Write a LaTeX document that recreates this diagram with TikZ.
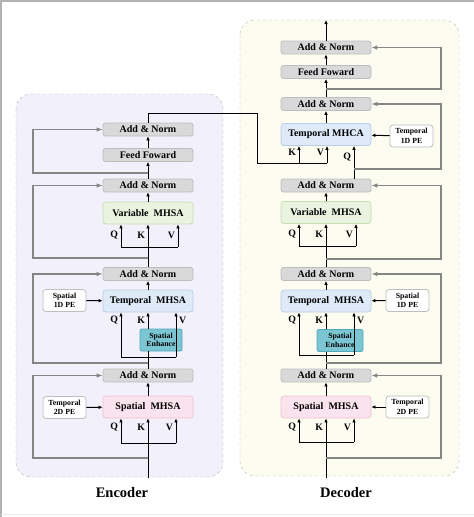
\documentclass[tikz,border=0pt]{standalone}
\usepackage{fontspec}
\setmainfont{Liberation Serif}
\usetikzlibrary{arrows.meta}
\definecolor{normgray}{HTML}{D9D9D9}
\definecolor{normline}{HTML}{BDBDBD}
\definecolor{varfill}{HTML}{E9F3E0}
\definecolor{varline}{HTML}{C6DDB4}
\definecolor{tempfill}{HTML}{DEEAF7}
\definecolor{templine}{HTML}{B9CDE6}
\definecolor{spafill}{HTML}{FAE3EC}
\definecolor{spaline}{HTML}{EEC3D3}
\definecolor{enhfill}{HTML}{7CC6D4}
\definecolor{enhline}{HTML}{4FA7B8}
\definecolor{encbg}{HTML}{F1F0FB}
\definecolor{decbg}{HTML}{FDFCF1}
\definecolor{resgray}{HTML}{858585}

\begin{document}
\begin{tikzpicture}
      [x=1pt, y=-1pt, >={Latex[length=4pt,width=3.6pt]},
       every node/.style={font=\bfseries\fontsize{10}{11}\selectfont, inner sep=0pt},
       norm/.style={draw=normline, fill=normgray, rounded corners=2.5pt, line width=0.8pt,
         minimum width=90pt, minimum height=13pt},
       attn/.style={rounded corners=3pt, line width=0.8pt, minimum width=90pt, minimum height=22pt},
       pe/.style={draw=normline, fill=white, rounded corners=3pt, line width=0.8pt, align=center,
         minimum width=43pt, minimum height=22pt, font=\bfseries\fontsize{7.8}{9.5}\selectfont},
       enh/.style={draw=enhline, fill=enhfill, rounded corners=2pt, line width=0.8pt, align=center,
         minimum height=22pt, font=\bfseries\fontsize{7.8}{8.6}\selectfont},
       lbl/.style={font=\bfseries\fontsize{9.8}{10}\selectfont, inner sep=2.5pt},
       main/.style={line width=1pt},
       res/.style={draw=resgray, line width=1.3pt, -{Latex[length=6pt,width=4.6pt]}}]
      \useasboundingbox (0,0) rectangle (474,517);
      % frame of the page
      \draw[gray!60, line width=2pt] (1,517) -- (1,1) -- (474,1);
      \draw[gray!15, line width=1pt] (1,514.5) -- (474,514.5);

      % containers
      \draw[fill=encbg, draw=gray!60, dashed, rounded corners=15pt] (16,94) rectangle (223,477);
      \draw[fill=decbg, draw=gray!60, dashed, rounded corners=15pt] (240,20) rectangle (459,476);

      % encoder
      \node[norm](e1) at (148, 129.5) {Add \& Norm};
      \node[norm](e2) at (148, 155) {Feed Foward};
      \node[norm](e3) at (148, 185.5) {Add \& Norm};
      \node[attn, draw=varline, fill=varfill](e4) at (148, 213) {Variable\ \ MHSA};
      \node[norm](e5) at (148, 274) {Add \& Norm};
      \node[attn, draw=templine, fill=tempfill](e6) at (148, 301) {Temporal\ \ MHSA};
      \node[enh, minimum width=42pt](e7) at (161, 340) {Spatial\\Enhance};
      \node[norm](e8) at (148, 375.5) {Add \& Norm};
      \node[attn, draw=spaline, fill=spafill](e9) at (148, 407) {Spatial\ \ MHSA};
      \node[pe](p1) at (64.5, 300.5) {Spatial\\1D PE};
      \node[pe](p2) at (64.5, 407.5) {Temporal\\2D PE};
      \node[font=\bfseries\fontsize{14.5}{16}\selectfont](enc) at (122, 493) {Encoder};

      % decoder
      \node[norm](d1) at (326, 47.5) {Add \& Norm};
      \node[norm](d2) at (326, 72) {Feed Foward};
      \node[norm](d3) at (326, 104) {Add \& Norm};
      \node[attn, draw=templine, fill=tempfill](d4) at (326, 134.5) {Temporal MHCA};
      \node[norm](d5) at (326, 185.5) {Add \& Norm};
      \node[attn, draw=varline, fill=varfill](d6) at (326, 212.5) {Variable\ \ MHSA};
      \node[norm](d7) at (326, 274) {Add \& Norm};
      \node[attn, draw=templine, fill=tempfill](d8) at (326, 301) {Temporal\ \ MHSA};
      \node[enh, minimum width=46pt](d9) at (340, 340.5) {Spatial\\Enhance};
      \node[norm](d10) at (326, 375.5) {Add \& Norm};
      \node[attn, draw=spaline, fill=spafill](d11) at (326, 407) {Spatial\ \ MHSA};
      \node[pe](q1) at (411.5, 136) {Temporal\\1D PE};
      \node[pe](q2) at (407.5, 300.5) {Spatial\\1D PE};
      \node[pe](q3) at (407.5, 407) {Temporal\\2D PE};
      \node[font=\bfseries\fontsize{14.5}{16}\selectfont](dec) at (346, 493) {Decoder};

      % encoder connectors
      \coordinate(ein) at (148, 478);
      \coordinate(eb1) at (121, 443);
      \coordinate(eb2) at (176, 443);
      \coordinate(eb3) at (121, 357);
      \coordinate(eb4) at (176, 357);
      \coordinate(eb5) at (121, 247);
      \coordinate(eb6) at (178, 247);
      \draw[main, ->](ein) --node[lbl, pos=0.85, left]{K} (e9.south);
      \draw[main](eb1) -- (eb2);
      \draw[main, ->](eb1) --node[lbl, pos=0.64, left]{Q} (eb1 |- e9.south);
      \draw[main, ->](eb2) --node[lbl, pos=0.64, left]{V} (eb2 |- e9.south);
      \draw[main, ->](e9) -- (e8);
      \draw[main](e8) -- (e8.north |- e7.south);
      \draw[main](eb3) -- (eb4);
      \draw[main, ->](eb3) --node[lbl, pos=0.82, left]{Q} (eb3 |- e6.south);
      \draw[main, ->](eb4) --node[lbl, pos=0.82, right]{V} (eb4 |- e6.south);
      \draw[main, ->](e7.north -| e6.south) --node[lbl, pos=0.5, left]{K} (e6.south);
      \draw[main, ->](e6) -- (e5);
      \draw[main, ->](e5) --node[lbl, pos=0.75, left]{K} (e4.south);
      \draw[main](eb5) -- (eb6);
      \draw[main, ->](eb5) --node[lbl, pos=0.52, left]{Q} (eb5 |- e4.south);
      \draw[main, ->](eb6) --node[lbl, pos=0.52, left]{V} (eb6 |- e4.south);
      \draw[main, ->](e4) -- (e3);
      \draw[main, ->](e3) -- (e2);
      \draw[main, ->](e2) -- (e1);
      \draw[main, ->](p1) -- (e6);
      \draw[main, ->](p2) -- (e9);

      % encoder residuals
      \coordinate(er1) at (148, 458);
      \coordinate(er2) at (148, 363);
      \coordinate(er3) at (148, 258);
      \coordinate(er4) at (148, 173);
      \draw[res](er1) -- ++(-115, 0) |- (e8.west);
      \draw[res](er2) -- ++(-115, 0) |- (e5.west);
      \draw[res](er3) -- ++(-115, 0) |- (e3.west);
      \draw[res](er4) -- ++(-115, 0) |- (e1.west);

      % encoder to decoder
      \coordinate(t1) at (257, 113);
      \coordinate(t2) at (257, 163);
      \coordinate(dk) at (299, 163);
      \coordinate(dv) at (327, 163);
      \draw[main](e1.north) |- (t1) -- (t2) -- (dv);
      \draw[main, ->](dk) --node[lbl, pos=0.62, left]{K} (dk |- d4.south);
      \draw[main, ->](dv) --node[lbl, pos=0.62, left]{V} (dv |- d4.south);

      % decoder connectors
      \coordinate(din) at (326, 478);
      \coordinate(dout) at (326, 20);
      \coordinate(db1) at (299, 442);
      \coordinate(db2) at (354, 442);
      \coordinate(db3) at (299, 355);
      \coordinate(db4) at (354, 355);
      \coordinate(db5) at (299, 246);
      \coordinate(db6) at (356, 246);
      \draw[main, ->](din) --node[lbl, pos=0.85, left]{K} (d11.south);
      \draw[main](db1) -- (db2);
      \draw[main, ->](db1) --node[lbl, pos=0.64, left]{Q} (db1 |- d11.south);
      \draw[main, ->](db2) --node[lbl, pos=0.64, left]{V} (db2 |- d11.south);
      \draw[main, ->](d11) -- (d10);
      \draw[main](d10) -- (d10.north |- d9.south);
      \draw[main](db3) -- (db4);
      \draw[main, ->](db3) --node[lbl, pos=0.82, left]{Q} (db3 |- d8.south);
      \draw[main, ->](db4) --node[lbl, pos=0.82, right]{V} (db4 |- d8.south);
      \draw[main, ->](d9.north -| d8.south) --node[lbl, pos=0.5, left]{K} (d8.south);
      \draw[main, ->](d8) -- (d7);
      \draw[main, ->](d7) --node[lbl, pos=0.75, left]{K} (d6.south);
      \draw[main](db5) -- (db6);
      \draw[main, ->](db5) --node[lbl, pos=0.52, left]{Q} (db5 |- d6.south);
      \draw[main, ->](db6) --node[lbl, pos=0.52, left]{V} (db6 |- d6.south);
      \draw[main, ->](d6) -- (d5);
      \draw[main, ->]([xshift=28pt]d5.north) --node[lbl, pos=0.67, left]{Q} ([xshift=28pt]d4.south);
      \draw[main, ->](d4) -- (d3);
      \draw[main, ->](d3) -- (d2);
      \draw[main, ->](d2) -- (d1);
      \draw[main, ->](d1) -- (dout);
      \draw[main, ->](q1) -- (d4);
      \draw[main, ->](q2) -- (d8);
      \draw[main, ->](q3) -- (d11);

      % decoder residuals
      \coordinate(dr1) at (326, 458);
      \coordinate(dr2) at (326, 363);
      \coordinate(dr3) at (326, 259);
      \coordinate(dr4) at (354, 169);
      \coordinate(dr5) at (326, 89);
      \draw[res](dr1) -- ++(115, 0) |- (d10.east);
      \draw[res](dr2) -- ++(115, 0) |- (d7.east);
      \draw[res](dr3) -- ++(115, 0) |- (d5.east);
      \draw[res](dr4) -- ++(87, 0) |- (d3.east);
      \draw[res](dr5) -- ++(115, 0) |- (d1.east);
  \end{tikzpicture}
\end{document}
